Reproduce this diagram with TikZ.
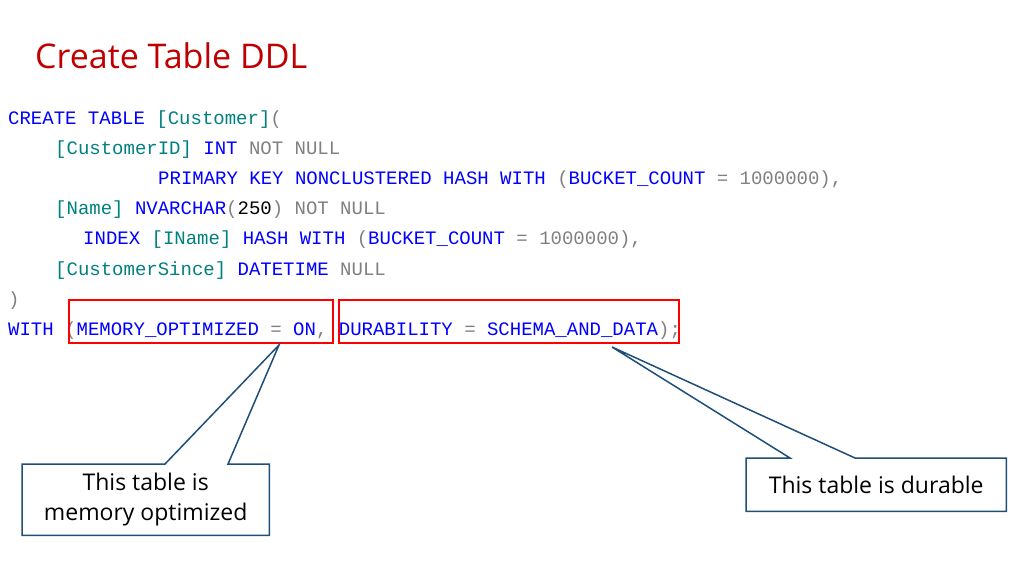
\documentclass[tikz,border=0pt]{standalone}
\usepackage{fontspec}
\setmainfont{Open Sans}
\setmonofont{Liberation Mono}
\usetikzlibrary{calc}
\definecolor{kwblue}{RGB}{0,0,255}
\definecolor{idteal}{RGB}{0,128,128}
\definecolor{pgray}{RGB}{128,128,128}
\definecolor{titlered}{RGB}{192,0,0}
\definecolor{callblue}{RGB}{31,78,121}
\newcommand{\kw}[1]{\textcolor{kwblue}{#1}}
\newcommand{\idf}[1]{\textcolor{idteal}{#1}}
\newcommand{\gr}[1]{\textcolor{pgray}{#1}}
\begin{document}
\begin{tikzpicture}[x=1pt, y=-1pt,
        code/.style={anchor=base west, inner sep=0pt, font=\fontsize{19}{19}\selectfont\ttfamily},
        mark box/.style={draw=red, line width=2.2pt},
        callout/.style={draw=none, minimum height=#1, align=center, font=\fontsize{23}{30}\selectfont}
    ]
        \useasboundingbox (0,0) rectangle (1024,576);
        % Title
        \node[anchor=base west, inner sep=0pt, text=titlered, font=\fontsize{34}{34}\selectfont] (title) at (35,68) {Create Table DDL};

        % Code
        \node[code] (l1) at (8,124) {\kw{CREATE TABLE} \idf{[Customer]}\gr{(}};
        \node[code] (l2) at (55,154) {\idf{[CustomerID]} \kw{INT} \gr{NOT NULL}};
        \node[code] (l3) at (158,184) {\kw{PRIMARY KEY NONCLUSTERED HASH WITH} \gr{(}\kw{BUCKET\_COUNT} \gr{= 1000000),}};
        \node[code] (l4) at (55,214) {\idf{[Name]} \kw{NVARCHAR}\gr{(}250\gr{) NOT NULL}};
        \node[code] (l5) at (83,244) {\kw{INDEX} \idf{[IName]} \kw{HASH WITH} \gr{(}\kw{BUCKET\_COUNT} \gr{= 1000000),}};
        \node[code] (l6) at (55,275) {\idf{[CustomerSince]} \kw{DATETIME} \gr{NULL}};
        \node[code] (l7) at (8,305) {\gr{)}};
        \node[code] (l8) at (8,335) {\kw{WITH} \gr{(}\kw{MEMORY\_OPTIMIZED} \gr{=} \kw{ON}\gr{,} \kw{DURABILITY} \gr{=} \kw{SCHEMA\_AND\_DATA}\gr{);}};

        % Highlight boxes
        \draw[mark box] (69,300) rectangle (333,343);
        \draw[mark box] (339,300) rectangle (679,343);
        \coordinate (memtip) at (279,345);
        \coordinate (durtip) at (612,347);

        % Callouts
        \node[callout=71pt, minimum width=247pt, anchor=north west] (mem) at (22,464) {This table is\\memory optimized};
        \node[callout=53pt, minimum width=260pt, anchor=north west] (dur) at (746,458) {This table is durable};
        \draw[callblue, line width=1.5pt, fill=white, line join=miter]
            (mem.north west) -- ($(mem.north west)+(143,0)$) -- (memtip)
            -- ($(mem.north west)+(206,0)$) -- (mem.north east) -- (mem.south east)
            -- (mem.south west) -- cycle;
        \draw[callblue, line width=1.5pt, fill=white, line join=miter]
            (dur.north west) -- ($(dur.north west)+(44,0)$) -- (durtip)
            -- ($(dur.north west)+(109,0)$) -- (dur.north east) -- (dur.south east)
            -- (dur.south west) -- cycle;
        \node[callout=71pt, minimum width=247pt, anchor=north west] at (22,464) {This table is\\memory optimized};
        \node[callout=53pt, minimum width=260pt, anchor=north west] at (746,458) {This table is durable};
    \end{tikzpicture}
\end{document}
